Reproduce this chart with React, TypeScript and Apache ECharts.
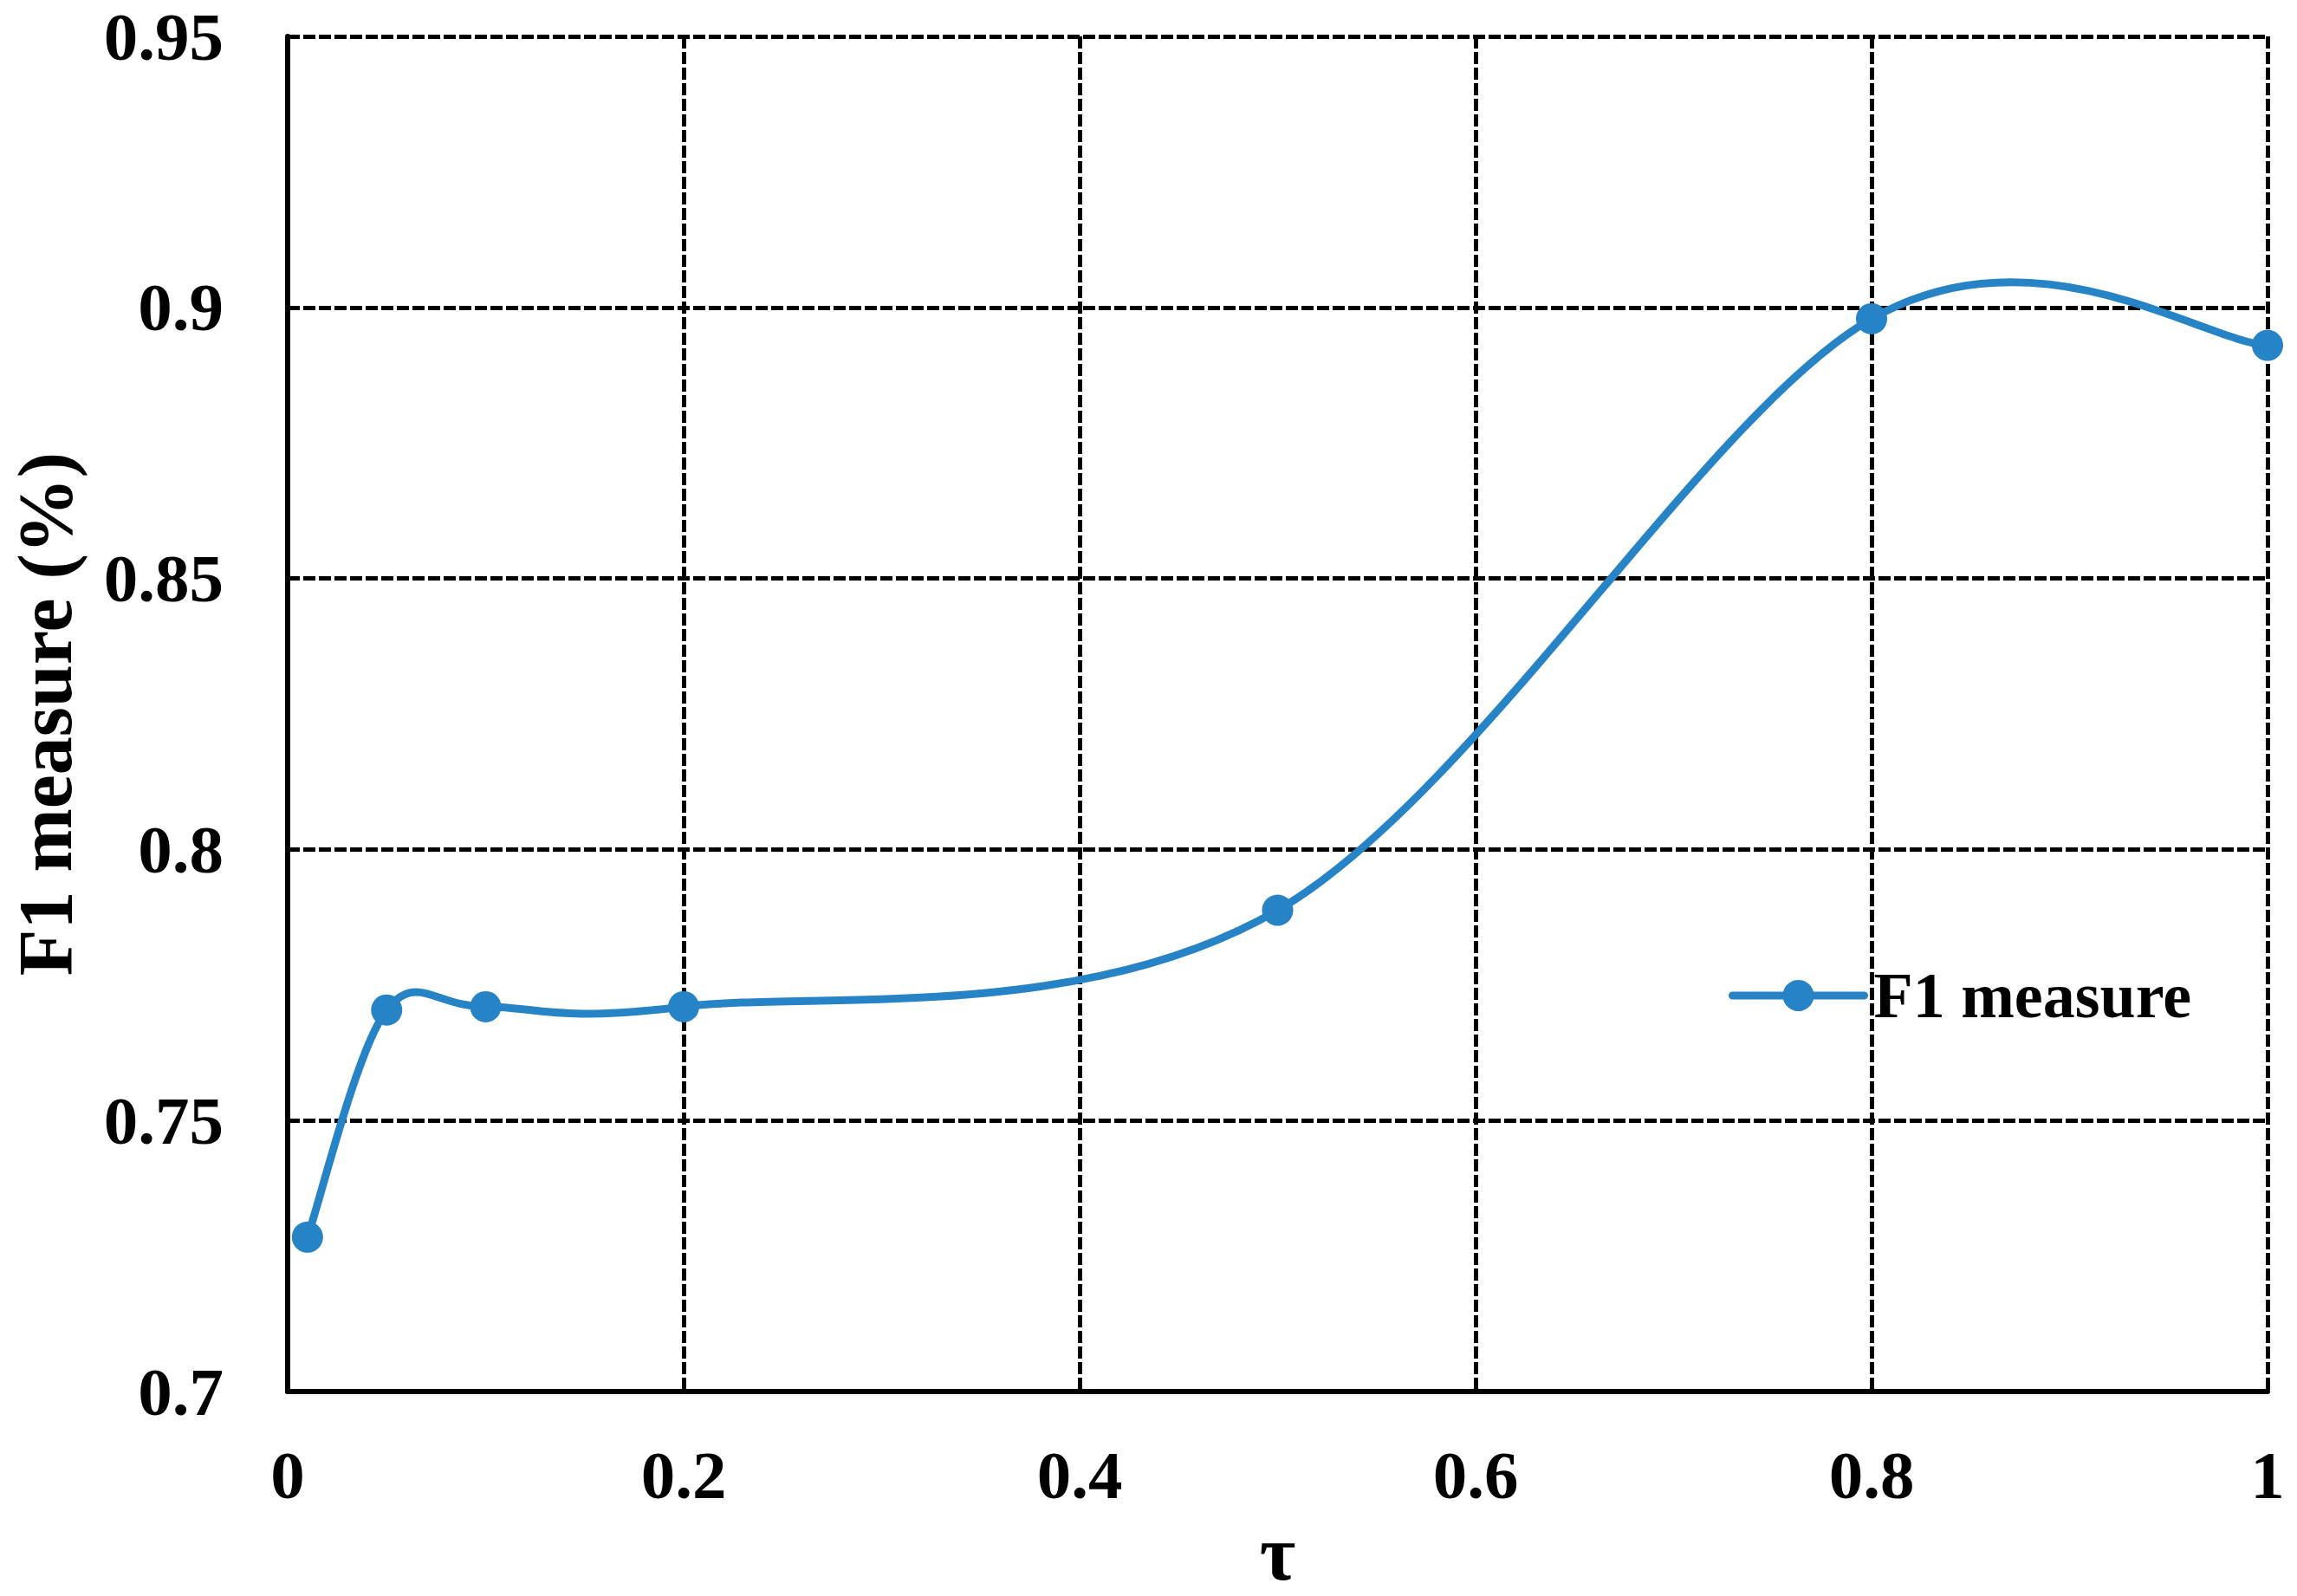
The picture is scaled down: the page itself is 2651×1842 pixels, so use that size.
import React, { useEffect, useRef } from "react";
import * as echarts from "echarts";

// ---- data ----
const tauValues = [0.01, 0.05, 0.1, 0.2, 0.5, 0.8, 1.0];
const f1Values = [0.7285, 0.7704, 0.771, 0.771, 0.7888, 0.8979, 0.893];
const xTicks = [0, 0.2, 0.4, 0.6, 0.8, 1];
const yTicks = [0.7, 0.75, 0.8, 0.85, 0.9, 0.95];
const seriesName = "F1 measure";
const xAxisName = "τ";
const yAxisName = "F1 measure (%)";

const BLUE = "#2683C6";
const FONT = "'Liberation Serif', 'Times New Roman', serif";

const round4 = (v: number) => Math.round(v * 10000) / 10000;

export default function App() {
  const ref = useRef<HTMLDivElement>(null);

  useEffect(() => {
    if (!ref.current) return;
    const chart = echarts.init(ref.current, undefined, { renderer: "svg" });
    const n = tauValues.length;
    const pairs = tauValues.map((x, i) => [x, f1Values[i]]);
    const clampIdx = (k: number) => Math.max(0, Math.min(n - 1, k));

    const option: any = {
      animation: false,
      backgroundColor: "#ffffff",
      grid: { left: 330, top: 42, width: 2287, height: 1582, containLabel: false },
      xAxis: {
        type: "value",
        min: xTicks[0],
        max: xTicks[xTicks.length - 1],
        interval: round4(xTicks[1] - xTicks[0]),
        name: xAxisName,
        nameLocation: "middle",
        nameGap: 129,
        nameTextStyle: { fontFamily: FONT, fontWeight: "bold", fontSize: 90, color: "#000" },
        axisLine: { show: true, onZero: false, lineStyle: { color: "#000", width: 6 } },
        axisTick: { show: false },
        axisLabel: { fontFamily: FONT, fontWeight: "bold", fontSize: 79, color: "#000", margin: 57 },
        splitLine: { show: true, lineStyle: { color: "#000", width: 5, type: [14, 4] } },
      },
      yAxis: {
        type: "value",
        min: yTicks[0],
        max: yTicks[yTicks.length - 1],
        interval: round4(yTicks[1] - yTicks[0]),
        name: yAxisName,
        nameLocation: "middle",
        nameRotate: 90,
        nameGap: 236,
        nameTextStyle: { fontFamily: FONT, fontWeight: "bold", fontSize: 88, color: "#000" },
        axisLine: { show: true, onZero: false, lineStyle: { color: "#000", width: 6 } },
        axisTick: { show: false },
        axisLabel: { fontFamily: FONT, fontWeight: "bold", fontSize: 79, color: "#000", margin: 74 },
        splitLine: { show: true, lineStyle: { color: "#000", width: 5, type: [14, 4] } },
      },
      legend: {
        show: true,
        data: [{ name: seriesName }],
        left: 1990,
        top: 1107,
        itemWidth: 152,
        itemHeight: 45,
        textStyle: {
          fontFamily: FONT,
          fontWeight: "bold",
          fontSize: 74,
          color: "#000",
          padding: [0, 0, 0, 6],
        },
        lineStyle: { width: 9, opacity: 1, color: BLUE, cap: "round" },
        itemStyle: { color: BLUE },
        selectedMode: false,
      },
      series: [
        {
          type: "custom",
          name: "curve",
          data: pairs,
          encode: { x: 0, y: 1 },
          z: 2,
          silent: true,
          renderItem: (params: any, api: any) => {
            const i = params.dataIndex;
            if (i >= n - 1) return null;
            const p = (k: number) => {
              const j = clampIdx(k);
              return api.coord([tauValues[j], f1Values[j]]);
            };
            const p0 = p(i - 1);
            const p1 = p(i);
            const p2 = p(i + 1);
            const p3 = p(i + 2);
            const cpx1 = p1[0] + (p2[0] - p0[0]) / 6;
            const cpy1 = p1[1] + (p2[1] - p0[1]) / 6;
            const cpx2 = p2[0] - (p3[0] - p1[0]) / 6;
            const cpy2 = p2[1] - (p3[1] - p1[1]) / 6;
            return {
              type: "bezierCurve",
              shape: {
                x1: p1[0],
                y1: p1[1],
                x2: p2[0],
                y2: p2[1],
                cpx1,
                cpy1,
                cpx2,
                cpy2,
              },
              style: { stroke: BLUE, lineWidth: 9, fill: "none", lineCap: "round" },
            };
          },
        },
        {
          type: "line",
          name: seriesName,
          data: pairs,
          z: 3,
          symbol: "circle",
          symbolSize: 36,
          showSymbol: true,
          itemStyle: { color: BLUE },
          lineStyle: { width: 9, color: BLUE, opacity: 0 },
          emphasis: { disabled: true },
        },
      ],
    };

    chart.setOption(option);
    return () => {
      chart.dispose();
    };
  }, []);

  return (
    <div
      ref={ref}
      style={{ position: "absolute", left: 0, top: 0, width: 2651, height: 1842, background: "#fff" }}
    />
  );
}
